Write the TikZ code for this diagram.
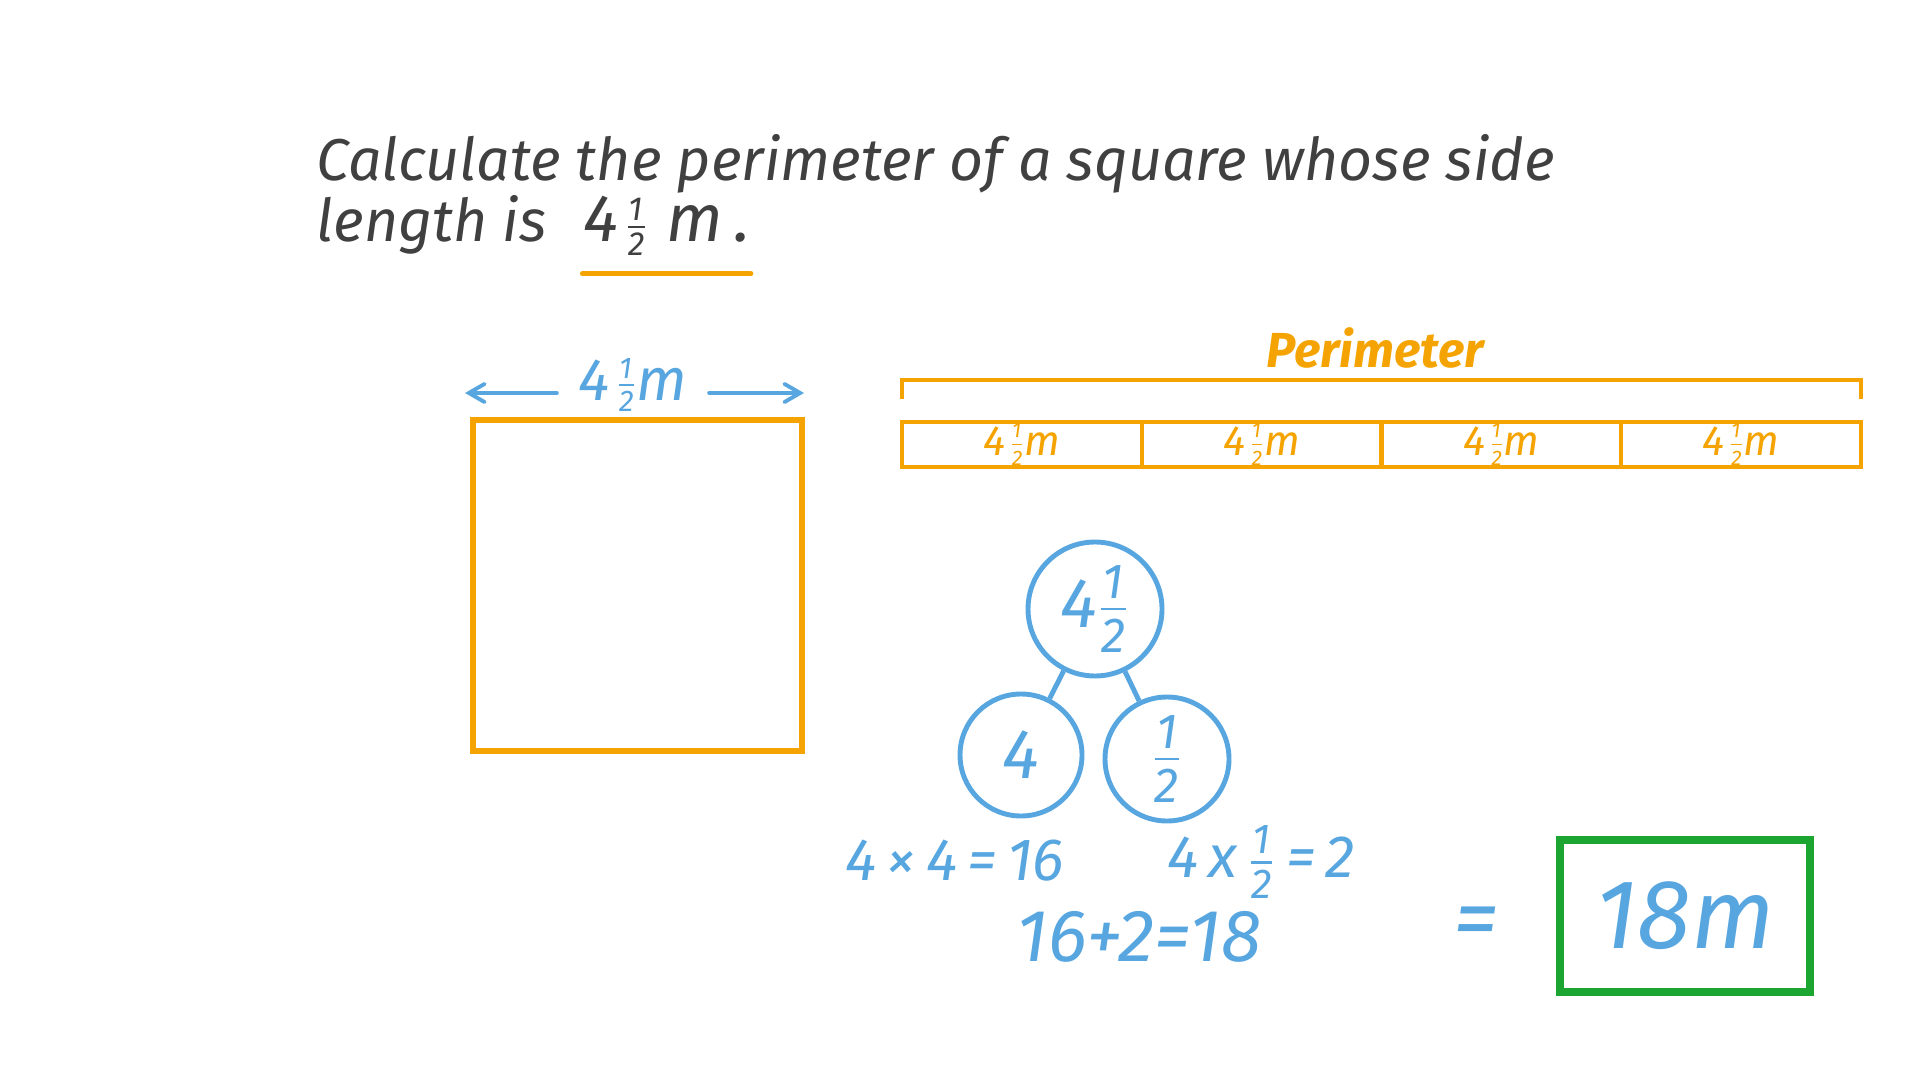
\documentclass[tikz,border=0pt]{standalone}
\usepackage{amsmath}
\usepackage{fontspec}
\setmainfont{Fira Sans}
\usepackage{tikz}
\usetikzlibrary{arrows}
\usetikzlibrary{positioning}
\definecolor{chalk}{HTML}{404040}
\definecolor{amber}{HTML}{F5A300}
\definecolor{sky}{HTML}{58A6E0}
\definecolor{leaf}{HTML}{1DA531}
\tikzset{hand/.style={text=sky,font=\itshape\fontsize{17}{20}\selectfont,inner sep=0pt}}
\tikzset{ring/.style={circle,draw=sky,line width=1.4pt,inner sep=0pt,hand,
                      font=\itshape\fontsize{20}{24}\selectfont}}
\newcommand{\half}{\kern0.15em\ensuremath{\vcenter{\hbox{$\scriptscriptstyle\text{1}$}\kern1.6pt
    \hrule height0.5pt\kern1.6pt\hbox{$\scriptscriptstyle\text{2}$}}}\kern0.05em}
\newcommand{\bighalf}{\ensuremath{\frac{\text{1}}{\text{2}}}}

\begin{document}
\begin{tikzpicture}[x=1cm,y=-1cm,>=angle 60]
    \tikzstyle{title}=[text=chalk,font=\itshape\fontsize{16.8}{20}\selectfont,inner sep=0pt]
    \tikzstyle{seg}=[draw=amber,line width=1.2pt,minimum width=2.3975cm,minimum height=0.45cm,
                     inner sep=0pt,text=amber,font=\itshape\fontsize{12}{14}\selectfont]
    \useasboundingbox (0,0) rectangle (19.2,10.8);

    % Question
    \node[title,anchor=base west] (l1) at (3.16,1.81) {Calculate the perimeter of a square whose side};
    \node[title,anchor=base west] (l2) at (3.16,2.42) {length is};
    \node[title,font=\itshape\fontsize{19}{22}\selectfont,right=0.35cm of l2.base east,anchor=base west]
        (given) {4\half\;m\,.};
    \draw[amber,line width=1.4pt,line cap=round] ([yshift=-9pt]given.base west) -- ([yshift=-9pt]given.base east);

    % Square
    \node[draw=amber,line width=1.7pt,minimum width=3.29cm,minimum height=3.31cm] (square) at (6.375,5.855) {};
    \node[hand] (side) at (6.33,3.85) {4\half m};
    \coordinate (al) at (4.65,3.93);
    \coordinate (ar) at (8.04,3.93);
    \draw[<-,sky,line width=1.1pt,line cap=round] (al) -- ([xshift=-6pt]side.west |- al);
    \draw[->,sky,line width=1.1pt,line cap=round] ([xshift=6pt]side.east |- ar) -- (ar);

    % Perimeter bar
    \foreach \i in {0,...,3}{%
          \node[seg] (s\i) at (9.02+2.3975*\i+1.19875,4.445) {4\half m};
		}
    \coordinate (bl) at (9.02,3.99);
    \coordinate (br) at (18.61,3.99);
    \draw[amber,line width=1.2pt] (bl) -- ++(0,-0.19) -| (br);
    \node[text=amber,font=\bfseries\itshape\fontsize{14}{17}\selectfont,inner sep=0pt] (per) at (13.75,3.48) {Perimeter};

    % Partition
    \node[ring,minimum size=1.34cm] (whole) at (10.95,6.09) {4\bighalf};
    \node[ring,minimum size=1.22cm] (four) at (10.21,7.55) {4};
    \node[ring,minimum size=1.24cm] (part) at (11.67,7.59) {\bighalf};
    \draw[sky,line width=1.4pt] (whole) -- (four);
    \draw[sky,line width=1.4pt] (whole) -- (part);

    % Working
    \node[hand] (m1) at (9.55,8.61) {4\,×\,4\,=\,16};
    \node[hand] (m2) at (12.61,8.62) {4\,x\,\bighalf\,=\,2};
    \node[hand,font=\itshape\fontsize{21}{25}\selectfont] (sum) at (11.39,9.37) {16+2=18};
    \node[hand,font=\itshape\fontsize{26}{30}\selectfont] (eq) at (14.76,9.28) {=};
    \node[draw=leaf,line width=2.3pt,minimum width=2.5cm,minimum height=1.52cm,hand,
          font=\itshape\fontsize{28}{34}\selectfont] (ans) at (16.85,9.16) {18m};
\end{tikzpicture}
\end{document}
